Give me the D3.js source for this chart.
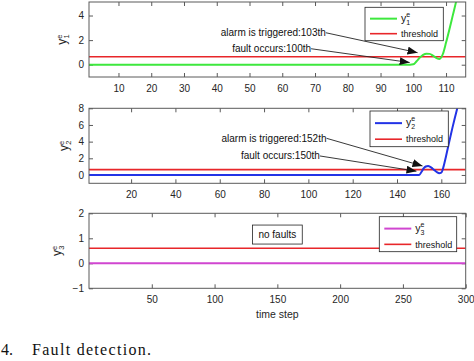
<!DOCTYPE html>
<html>
<head>
<meta charset="utf-8">
<script src="https://cdn.jsdelivr.net/npm/d3@7"></script>
<style>
  html, body { margin: 0; padding: 0; background: #fff; }
  svg { display: block; }
  text { font-family: Arial, "Liberation Sans", Helvetica, sans-serif; }
</style>
</head>
<body>
<svg id="chart" width="474" height="361"></svg>
<script>
// ---------------- data ----------------
const series1X = [1, 99, 100, 101, 102, 103, 104, 105, 106, 107, 108, 109, 110, 111, 112, 113, 114, 115, 116];
const series1Y = [0, 0, 0.03, 0.28, 0.58, 0.8, 0.9, 0.88, 0.74, 0.56, 0.46, 0.85, 1.8, 2.85, 3.95, 5.05, 6.2, 7.4, 8.6];

const series2X = [1, 150, 151, 152, 153, 154, 155, 156, 157, 158, 159, 160, 161, 162, 163, 164, 165, 166, 167, 168, 169, 170, 171];
const series2Y = [0, 0, 0.35, 0.78, 1.02, 1.08, 0.98, 0.78, 0.55, 0.35, 0.22, 0.28, 1.0, 2.1, 3.3, 4.5, 5.65, 6.75, 7.8, 8.8, 9.7, 10.6, 11.4];

const series3X = [0, 300];
const series3Y = [0, 0];

const thresholds = [0.65, 0.64, 0.6];

const xDomains = [[1, 116], [1, 171], [0, 300]];
const yDomains = [[-1, 5.1], [-1, 8], [-1, 2]];
const xTicks = [[10, 20, 30, 40, 50, 60, 70, 80, 90, 100, 110],
                [20, 40, 60, 80, 100, 120, 140, 160],
                [50, 100, 150, 200, 250, 300]];
const yTicks = [[0, 2, 4], [0, 2, 4, 6, 8], [-1, 0, 1, 2]];
const seriesSub = ["1", "2", "3"];
const thresholdLabel = "threshold";

// annotations: text end point (arrow start) and arrow tip, in data units
const annotations1 = [
  { text: "alarm is triggered:103th", tx: 73.3, ty: 2.6, ax: 101.3, ay: 0.98 },
  { text: "fault occurs:100th", tx: 68.8, ty: 1.3, ax: 98.9, ay: 0.18 }
];
const annotations2 = [
  { text: "alarm is triggered:152th", tx: 108.2, ty: 4.4, ax: 151.5, ay: 1.08 },
  { text: "fault occurs:150th", tx: 105.2, ty: 2.28, ax: 148.8, ay: 0.45 }
];
const noFaultText = "no faults";
const noFaultPos = { x: 150, y: 1.15 };
const xAxisLabel = "time step";
const captionNum = "4.";
const captionText = "Fault detection.";

// ---------------- layout ----------------
const svg = d3.select("#chart");
const left = 89, right = 465.7;
const panels = [
  { top: 2, bottom: 77, color: "#3de83d", sx: series1X, sy: series1Y, ann: annotations1,
    legend: { x: 365, y: 7.3, w: 78.3, h: 33.4 }, ylabX: 66 },
  { top: 108.3, bottom: 183.3, color: "#2233e6", sx: series2X, sy: series2Y, ann: annotations2,
    legend: { x: 370, y: 111, w: 78.3, h: 35.7 }, ylabX: 68 },
  { top: 213.3, bottom: 288.3, color: "#d046d0", sx: series3X, sy: series3Y, ann: [],
    legend: { x: 379.3, y: 216.7, w: 77.4, h: 35 }, ylabX: 61 }
];
const redColor = "#e8262a";
const axisColor = "#5a5a5a";
const labelColor = "#262626";

const defs = svg.append("defs");
defs.append("marker")
  .attr("id", "arrowhead")
  .attr("viewBox", "0 0 10 8")
  .attr("refX", 10).attr("refY", 4)
  .attr("markerWidth", 10).attr("markerHeight", 8)
  .attr("markerUnits", "userSpaceOnUse")
  .attr("orient", "auto")
  .append("path").attr("d", "M0,0 L10,4 L0,8 Z").attr("fill", "#111");

panels.forEach((p, i) => {
  const x = d3.scaleLinear().domain(xDomains[i]).range([left, right]);
  const y = d3.scaleLinear().domain(yDomains[i]).range([p.bottom, p.top]);
  const g = svg.append("g");

  defs.append("clipPath").attr("id", "clip" + i)
    .append("rect").attr("x", left).attr("y", p.top)
    .attr("width", right - left).attr("height", p.bottom - p.top);

  const tick = 4;
  const styleAxis = sel => {
    sel.select(".domain").remove();
    sel.selectAll("line").attr("stroke", axisColor).attr("stroke-width", 1);
    sel.selectAll("text").attr("fill", labelColor).style("font-size", "10px")
      .style("font-family", "Arial, 'Liberation Sans', sans-serif");
  };
  g.append("g").attr("transform", `translate(0,${p.bottom})`)
    .call(d3.axisBottom(x).tickValues(xTicks[i]).tickSize(-tick).tickPadding(8).tickFormat(d3.format("d")))
    .call(styleAxis);
  g.append("g").attr("transform", `translate(0,${p.top})`)
    .call(d3.axisTop(x).tickValues(xTicks[i]).tickSize(-tick).tickFormat(""))
    .call(styleAxis);
  g.append("g").attr("transform", `translate(${left},0)`)
    .call(d3.axisLeft(y).tickValues(yTicks[i]).tickSize(-tick).tickPadding(5).tickFormat(d3.format("d")))
    .call(styleAxis);
  g.append("g").attr("transform", `translate(${right},0)`)
    .call(d3.axisRight(y).tickValues(yTicks[i]).tickSize(-tick).tickFormat(""))
    .call(styleAxis);

  const plot = g.append("g").attr("clip-path", `url(#clip${i})`);
  plot.append("line")
    .attr("x1", x(xDomains[i][0])).attr("x2", x(xDomains[i][1]))
    .attr("y1", y(thresholds[i])).attr("y2", y(thresholds[i]))
    .attr("stroke", redColor).attr("stroke-width", 1.6);

  const pts = p.sx.map((v, k) => [v, p.sy[k]]);
  const line = d3.line().x(d => x(d[0])).y(d => y(d[1])).curve(d3.curveMonotoneX);
  plot.append("path").datum(pts).attr("d", line)
    .attr("fill", "none").attr("stroke", p.color).attr("stroke-width", 2);

  g.append("rect").attr("x", left).attr("y", p.top)
    .attr("width", right - left).attr("height", p.bottom - p.top)
    .attr("fill", "none").attr("stroke", axisColor).attr("stroke-width", 1);

  const yl = g.append("text")
    .attr("transform", `translate(${p.ylabX},${(p.top + p.bottom) / 2}) rotate(-90)`)
    .attr("text-anchor", "middle").attr("fill", labelColor)
    .style("font-size", "12px");
  yl.append("tspan").text("y");
  yl.append("tspan").attr("dy", -4).style("font-size", "7.5px").text("e");
  yl.append("tspan").attr("dx", -4).attr("dy", 7).style("font-size", "7.5px").text(seriesSub[i]);

  p.ann.forEach(a => {
    const tx = x(a.tx), ty = y(a.ty);
    g.append("text").attr("x", tx).attr("y", ty).attr("dy", "0.35em")
      .attr("text-anchor", "end").attr("fill", "#111")
      .style("font-size", "10px").text(a.text);
    g.append("line").attr("x1", tx).attr("y1", ty).attr("x2", x(a.ax)).attr("y2", y(a.ay))
      .attr("stroke", "#222").attr("stroke-width", 0.9)
      .attr("marker-end", "url(#arrowhead)");
  });

  const L = p.legend;
  const lg = g.append("g");
  lg.append("rect").attr("x", L.x).attr("y", L.y).attr("width", L.w).attr("height", L.h)
    .attr("fill", "#fff").attr("stroke", "#222").attr("stroke-width", 0.8);
  const row1 = L.y + L.h * 0.34, row2 = L.y + L.h * 0.79;
  lg.append("line").attr("x1", L.x + 5).attr("x2", L.x + 32).attr("y1", row1).attr("y2", row1)
    .attr("stroke", p.color).attr("stroke-width", 2);
  lg.append("line").attr("x1", L.x + 5).attr("x2", L.x + 32).attr("y1", row2).attr("y2", row2)
    .attr("stroke", redColor).attr("stroke-width", 1.6);
  const lt = lg.append("text").attr("x", L.x + 36).attr("y", row1 + 3)
    .attr("fill", "#111").style("font-size", "10.5px");
  lt.append("tspan").text("y");
  lt.append("tspan").attr("dy", -5).style("font-size", "7px").text("e");
  lt.append("tspan").attr("dx", -4).attr("dy", 8).style("font-size", "7px").text(seriesSub[i]);
  lg.append("text").attr("x", L.x + 36).attr("y", row2).attr("dy", "0.35em")
    .attr("fill", "#111").style("font-size", "9px").text(thresholdLabel);

  if (i === 2) {
    const nfBox = g.append("rect")
      .attr("fill", "#fff").attr("stroke", "#222").attr("stroke-width", 0.8);
    const t = g.append("text").attr("x", x(noFaultPos.x)).attr("y", y(noFaultPos.y))
      .attr("dy", "0.35em").attr("text-anchor", "middle").attr("fill", "#111")
      .style("font-size", "10px").text(noFaultText);
    const bb = t.node().getBBox();
    nfBox.attr("x", bb.x - 6).attr("y", bb.y - 4).attr("width", bb.width + 12).attr("height", bb.height + 8);
    g.append("text").attr("x", (left + right) / 2).attr("y", p.bottom + 26)
      .attr("dy", "0.35em").attr("text-anchor", "middle").attr("fill", labelColor)
      .style("font-size", "10.5px").text(xAxisLabel);
  }
});

svg.append("text").attr("x", 1).attr("y", 355)
  .style("font-family", "'Liberation Serif', 'Times New Roman', serif")
  .style("font-size", "16px").attr("fill", "#111").text(captionNum);
svg.append("text").attr("x", 32).attr("y", 355)
  .style("font-family", "'Liberation Serif', 'Times New Roman', serif")
  .style("font-size", "16px").attr("fill", "#111")
  .attr("textLength", 119).attr("lengthAdjust", "spacing").text(captionText);
</script>
</body>
</html>
